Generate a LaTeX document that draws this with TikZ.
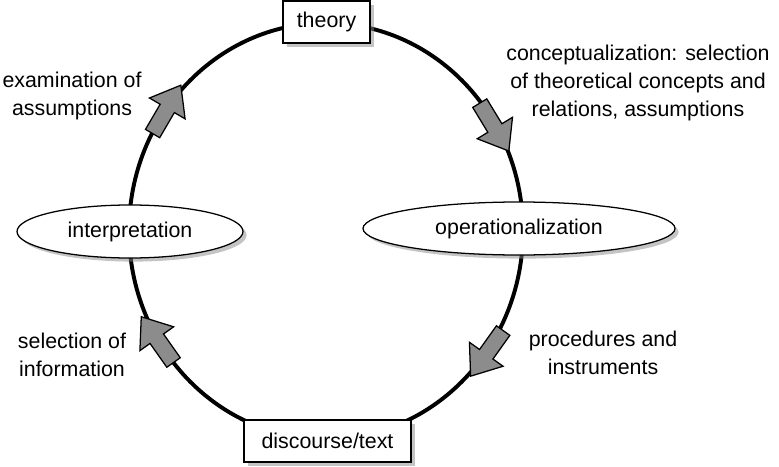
\documentclass[tikz,border=0pt]{standalone}
\usepackage{fontspec}
\setmainfont{Liberation Sans}
\usepackage{xcolor}
\usetikzlibrary{shapes.geometric,shapes.arrows,shadows}
\definecolor{ArrowGray}{HTML}{8C8C8C}
\definecolor{ShadowGray}{HTML}{8A8A8A}

\begin{document}
\begin{tikzpicture}[
  box/.style={draw, line width=0.9pt, fill=white, minimum height=1.05cm, text centered, drop shadow={shadow xshift=0.09cm, shadow yshift=-0.09cm, fill=ShadowGray}, font=\fontsize{15.2}{18}\selectfont},
  oval/.style={ellipse, draw, line width=0.9pt, fill=white, minimum height=1.325cm, inner sep=0pt, drop shadow={shadow xshift=0.09cm, shadow yshift=-0.09cm, fill=ShadowGray}, font=\fontsize{15.2}{18}\selectfont},
  bigarrow/.style={single arrow, draw, line width=0.9pt, fill=ArrowGray, inner sep=0pt, minimum height=1.4cm, minimum width=1.0cm, single arrow head extend=0.31cm, single arrow tip angle=75},
  note/.style={align=center, font=\fontsize{15.2}{19.6}\selectfont}]%
\useasboundingbox (0,0) rectangle (19.475, 11.65);%
% the cycle
\draw[line width=2.8pt] (8.150000, 5.875000) ellipse [x radius=4.925cm, y radius=5.2cm];%
\node[box, minimum width=2.175cm] (theory) at (8.162500, 11.100000) {theory};%
\node[box, minimum width=4.175cm] (text) at (8.187500, 0.625000) {discourse/text};%
\node[oval, minimum width=5.650000cm] (interp) at (3.250000, 5.862500) {interpretation};%
\node[oval, minimum width=7.800000cm] (operat) at (12.975000, 5.937500) {operationalization};%
% arrows on the cycle
\node[bigarrow, rotate=-58.7] (arrTR) at (12.287500, 8.587500) {\rule{0pt}{0.38cm}};%
\node[bigarrow, rotate=-125.5] (arrBR) at (12.250000, 2.925000) {\rule{0pt}{0.38cm}};%
\node[bigarrow, rotate=125.2] (arrBL) at (4.012500, 3.050000) {\rule{0pt}{0.38cm}};%
\node[bigarrow, rotate=59.7] (arrTL) at (4.100000, 8.800000) {\rule{0pt}{0.38cm}};%
% labels
\node[note] (examin) at (1.800000, 9.250000) {examination of\\assumptions};%
\node[note] (concept) at (15.950000, 9.575000) {conceptualization: selection\\of theoretical concepts and\\relations, assumptions};%
\node[note] (select) at (1.800000, 2.775000) {selection of\\information};%
\node[note] (proced) at (15.075000, 2.825000) {procedures and\\instruments};%
\end{tikzpicture}
\end{document}
